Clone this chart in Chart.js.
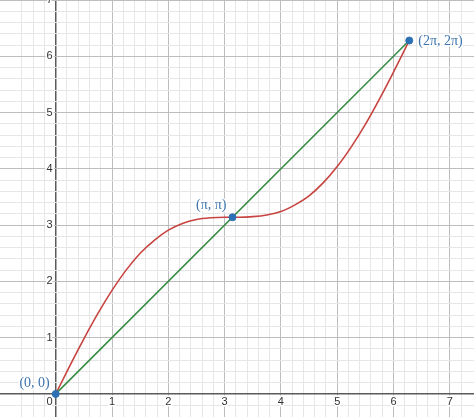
<!DOCTYPE html>
<html>
<head>
<meta charset="utf-8">
<script src="https://cdn.jsdelivr.net/npm/chart.js@4.4.0/dist/chart.umd.min.js"></script>
<style>
  html, body { margin: 0; padding: 0; background: #fff; }
  #wrap { width: 474px; height: 417px; }
</style>
</head>
<body>
<div id="wrap"><canvas id="graph" width="474" height="417"></canvas></div>
<script>
// Curva roja
const curveX = [0, 0.25, 0.5, 0.75, 1, 1.25, 1.5, 1.75, 2, 2.25, 2.5, 2.75, 3, 3.14,
  3.25, 3.5, 3.75, 4, 4.25, 4.5, 4.75, 5, 5.25, 5.5, 5.75, 6, 6.28];
const curveY = [0, 0.5, 0.98, 1.43, 1.84, 2.2, 2.5, 2.73, 2.91, 3.03, 3.1, 3.13, 3.14, 3.14,
  3.14, 3.15, 3.18, 3.24, 3.36, 3.52, 3.75, 4.04, 4.39, 4.79, 5.24, 5.72, 6.28];

// Recta verde
const lineX = [0, 6.28];
const lineY = [0, 6.28];

// Puntos marcados
const pointX = [0, 3.14, 6.28];
const pointY = [0, 3.14, 6.28];
const pointLabels = ['(0, 0)', '(π, π)', '(2π, 2π)'];

// Etiquetas de los ejes
const xTicks = [1, 2, 3, 4, 5, 6, 7];
const yTicks = [1, 2, 3, 4, 5, 6, 7];

const toXY = (xs, ys) => xs.map((x, i) => ({ x: x, y: ys[i] }));

function gridColor(ctx) {
  const v = ctx.tick.value;
  if (Math.abs(v) < 1e-9) return '#5a5a5a';
  if (Math.abs(v - Math.round(v)) < 1e-6) return '#bdbdbd';
  if (Math.abs(v * 5 - Math.round(v * 5)) < 1e-6) return '#e6e6e6';
  return 'rgba(0,0,0,0)';
}
function gridWidth(ctx) {
  return Math.abs(ctx.tick.value) < 1e-9 ? 1.5 : 1;
}

// Etiquetas tipo Desmos dentro del area
const labelsPlugin = {
  id: 'labels',
  afterDatasetsDraw(chart) {
    const c = chart.ctx;
    const xs = chart.scales.x, ys = chart.scales.y;
    const x0 = xs.getPixelForValue(0), y0 = ys.getPixelForValue(0);
    c.save();
    c.font = '11px "Liberation Sans", Arial, sans-serif';
    c.fillStyle = '#333';
    c.strokeStyle = '#fff';
    c.lineWidth = 3;
    c.textAlign = 'center';
    c.textBaseline = 'top';
    xTicks.forEach(t => {
      const px = xs.getPixelForValue(t);
      c.strokeText(String(t), px, y0 + 3);
      c.fillText(String(t), px, y0 + 3);
    });
    c.textAlign = 'right';
    c.strokeText('0', x0 - 3, y0 + 3);
    c.fillText('0', x0 - 3, y0 + 3);
    c.textBaseline = 'middle';
    yTicks.forEach(t => {
      const py = ys.getPixelForValue(t);
      c.strokeText(String(t), x0 - 3, py);
      c.fillText(String(t), x0 - 3, py);
    });

    // etiquetas de los puntos
    c.font = '14px "Liberation Serif", "DejaVu Serif", serif';
    c.fillStyle = '#3b73ad';
    c.textBaseline = 'middle';
    const offs = [[-6, -11, 'right'], [-6, -12, 'right'], [9, 1, 'left']];
    pointLabels.forEach((txt, i) => {
      const px = xs.getPixelForValue(pointX[i]);
      const py = ys.getPixelForValue(pointY[i]);
      c.textAlign = offs[i][2];
      c.strokeText(txt, px + offs[i][0], py + offs[i][1]);
      c.fillText(txt, px + offs[i][0], py + offs[i][1]);
    });
    c.restore();
  }
};

const chart = new Chart(document.getElementById('graph'), {
  type: 'scatter',
  data: {
    datasets: [
      {
        data: toXY(curveX, curveY),
        showLine: true,
        borderColor: '#c74440',
        borderWidth: 1.6,
        pointRadius: 0,
        cubicInterpolationMode: 'monotone',
        order: 3
      },
      {
        data: toXY(lineX, lineY),
        showLine: true,
        borderColor: '#388c46',
        borderWidth: 1.6,
        pointRadius: 0,
        order: 2
      },
      {
        data: toXY(pointX, pointY),
        showLine: false,
        pointRadius: 3.5,
        pointBackgroundColor: '#2d70b3',
        pointBorderColor: '#2d70b3',
        order: 1
      }
    ]
  },
  options: {
    responsive: false,
    animation: false,
    layout: { padding: 0, autoPadding: false },
    plugins: { legend: { display: false }, tooltip: { enabled: false } },
    scales: {
      x: {
        type: 'linear',
        min: -0.99,
        max: 7.43,
        ticks: { display: false, stepSize: 0.2, autoSkip: false },
        grid: { color: gridColor, lineWidth: gridWidth, drawTicks: false },
        border: { display: false },
        afterFit: s => { s.height = 0; }
      },
      y: {
        type: 'linear',
        min: -0.41,
        max: 7.0,
        ticks: { display: false, stepSize: 0.2, autoSkip: false },
        grid: { color: gridColor, lineWidth: gridWidth, drawTicks: false },
        border: { display: false },
        afterFit: s => { s.width = 0; }
      }
    }
  },
  plugins: [labelsPlugin]
});
</script>
</body>
</html>
